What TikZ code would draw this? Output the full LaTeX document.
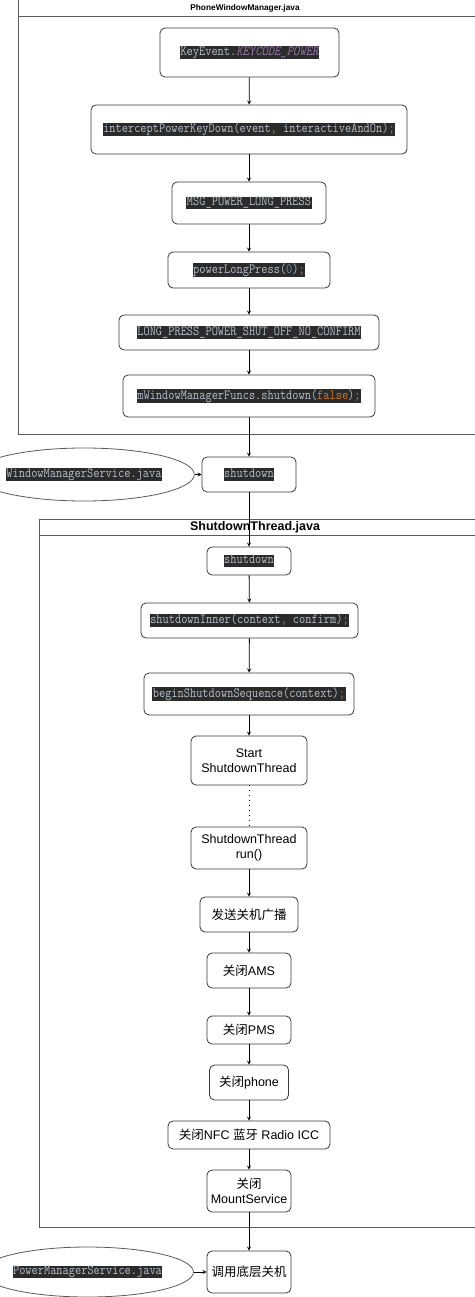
\documentclass[tikz,border=0pt]{standalone}
\usepackage{fontspec}
\setmainfont{Liberation Sans}
\newfontfamily\cjk{Noto Sans CJK SC}
\usepackage{xcolor}
\usepackage{graphicx}
\usepackage{tikz}
\usetikzlibrary{arrows}
\usetikzlibrary{shapes.geometric}

\definecolor{codebg}{HTML}{2B2B2B}
\definecolor{codefg}{HTML}{B4C0CC}
\definecolor{codeor}{HTML}{CC7832}
\definecolor{codenum}{HTML}{6897BB}
\definecolor{codepur}{HTML}{9876AA}
\definecolor{boxgray}{HTML}{3A3A3A}
\definecolor{framegray}{HTML}{5A5A5A}

\newcommand{\jcode}[1]{{\setlength{\fboxsep}{0.5pt}\colorbox{codebg}{\scalebox{0.86}[1]{\ttfamily\fontsize{14}{16}\selectfont\color{codefg}\rule[-3.2pt]{0pt}{10.8pt}#1}}}}
\newcommand{\jor}[1]{\textcolor{codeor}{#1}}
\newcommand{\jnum}[1]{\textcolor{codenum}{#1}}
\newcommand{\jconst}[1]{\textcolor{codepur}{\itshape #1}}

\tikzset{
	stepbox/.style={draw=boxgray,line width=0.8pt,rounded corners=5pt,fill=white,inner sep=0pt,align=center,font=\fontsize{12.5}{14.5}\selectfont},
	srcfile/.style={draw=framegray,line width=0.8pt,ellipse,inner sep=0pt},
	frame/.style={draw=framegray,line width=0.8pt},
	flow/.style={->,line width=0.8pt}
}

\begin{document}
\begin{tikzpicture}[x=1pt,y=-1pt,>=stealth]
	\useasboundingbox (0,0) rectangle (474,1297);
	% PhoneWindowManager.java
	\draw[frame] (18,-2) rectangle (480,434) (18,16) -- (480,16);
	\node (pwmtitle) at (245,8.5) {\bfseries\fontsize{8.3}{10}\selectfont PhoneWindowManager.java};
	\node[stepbox,minimum width=179,minimum height=49] (kev) at (249.5,52.5) {\jcode{KeyEvent.\jconst{KEYCODE\_POWER}}};
	\node[stepbox,minimum width=316,minimum height=49] (ipk) at (249,129.5) {\jcode{interceptPowerKeyDown(event\jor{,} interactiveAndOn)\jor{;}}};
	\node[stepbox,minimum width=154,minimum height=42] (msg) at (249,203) {\jcode{MSG\_POWER\_LONG\_PRESS}};
	\node[stepbox,minimum width=162,minimum height=36] (plp) at (249,270) {\jcode{powerLongPress(\jnum{0})\jor{;}}};
	\node[stepbox,minimum width=260,minimum height=35] (lpp) at (249,332.5) {\jcode{LONG\_PRESS\_POWER\_SHUT\_OFF\_NO\_CONFIRM}};
	\node[stepbox,minimum width=252,minimum height=42] (wmf) at (249,396) {\jcode{mWindowManagerFuncs.shutdown(\jor{false})\jor{;}}};
	% WindowManagerService.java
	\node[stepbox,minimum width=94,minimum height=35] (sd1) at (249,474.5) {\jcode{shutdown}};
	\node[srcfile,minimum width=168,minimum height=53] (wms) at (84,474.5) {\jcode{WindowManagerService.java}};
	% ShutdownThread.java
	\draw[frame] (39,519) rectangle (480,1227) (39,535) -- (480,535);
	\node (sdttitle) at (255,527) {\bfseries\fontsize{12.5}{14}\selectfont ShutdownThread.java};
	\node[stepbox,minimum width=84,minimum height=28] (sd2) at (249,561) {\jcode{shutdown}};
	\node[stepbox,minimum width=217,minimum height=35] (sdi) at (249.5,620.5) {\jcode{shutdownInner(context\jor{,} confirm)\jor{;}}};
	\node[stepbox,minimum width=210,minimum height=42] (bss) at (249,694) {\jcode{beginShutdownSequence(context)\jor{;}}};
	\node[stepbox,minimum width=116,minimum height=49] (start) at (249,760.5) {Start\\ShutdownThread};
	\node[stepbox,minimum width=116,minimum height=42] (run) at (249,848) {ShutdownThread\\run()};
	\node[stepbox,minimum width=98,minimum height=35] (bcast) at (249,914.5) {\cjk 发送关机广播};
	\node[stepbox,minimum width=84,minimum height=35] (ams) at (249,970.5) {{\cjk 关闭}AMS};
	\node[stepbox,minimum width=84,minimum height=28] (pms) at (249,1030) {{\cjk 关闭}PMS};
	\node[stepbox,minimum width=79,minimum height=35] (phone) at (249,1082.5) {{\cjk 关闭}phone};
	\node[stepbox,minimum width=162,minimum height=28] (nfc) at (249,1135) {{\cjk 关闭}NFC {\cjk 蓝牙} Radio ICC};
	\node[stepbox,minimum width=84,minimum height=42] (mount) at (249,1191) {{\cjk 关闭}\\MountService};
	% PowerManagerService.java
	\node[stepbox,minimum width=84,minimum height=42] (native) at (249,1272) {\cjk 调用底层关机};
	\node[srcfile,minimum width=175,minimum height=50] (pmsv) at (87.5,1272) {\jcode{PowerManagerService.java}};
	\draw[flow] (kev)--(ipk);
	\draw[flow] (ipk)--(msg);
	\draw[flow] (msg)--(plp);
	\draw[flow] (plp)--(lpp);
	\draw[flow] (lpp)--(wmf);
	\draw[flow] (wmf)--(sd1);
	\draw[flow] (wms)--(sd1);
	\draw[flow] (sd1)--(sd2);
	\draw[flow] (sd2)--(sdi);
	\draw[flow] (sdi)--(bss);
	\draw[flow] (bss)--(start);
	\draw[line width=0.9pt,dash pattern=on 1pt off 4pt] (start)--(run);
	\draw[flow] (run)--(bcast);
	\draw[flow] (bcast)--(ams);
	\draw[flow] (ams)--(pms);
	\draw[flow] (pms)--(phone);
	\draw[flow] (phone)--(nfc);
	\draw[flow] (nfc)--(mount);
	\draw[flow] (mount)--(native);
	\draw[flow] (pmsv)--(native);
\end{tikzpicture}
\end{document}
